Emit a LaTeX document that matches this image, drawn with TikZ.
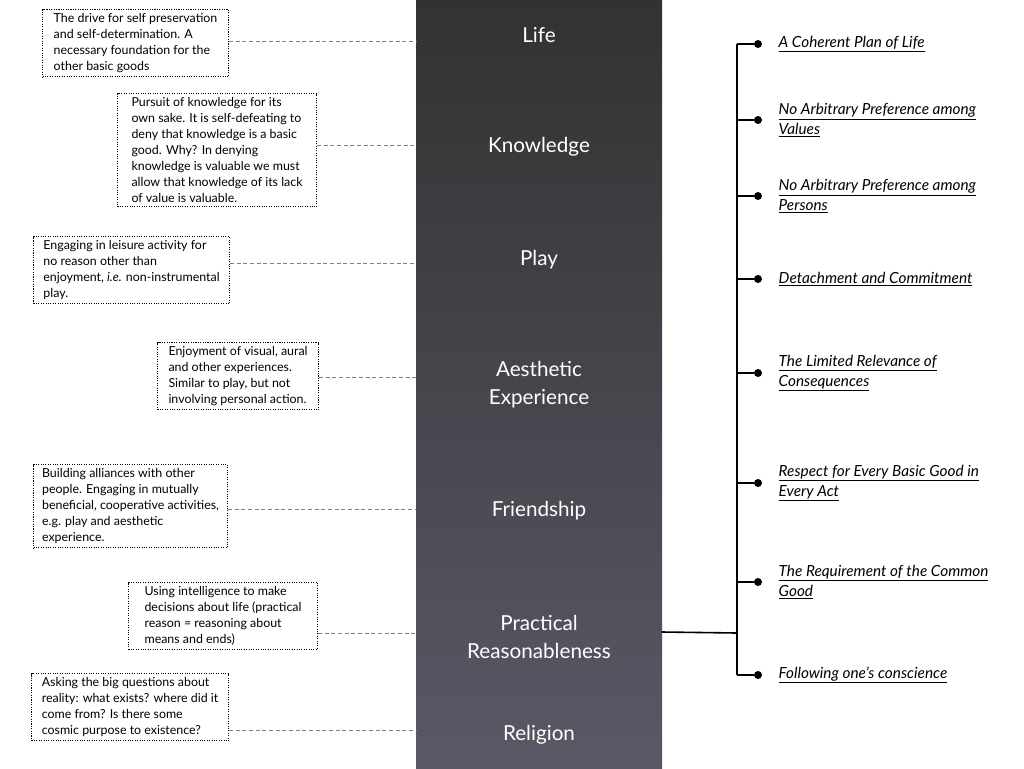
\documentclass[tikz,border=0pt]{standalone}
\usepackage{fontspec}
\setmainfont{Lato}
\newcommand\myul[1]{$\underline{\hbox{#1}}$}
\begin{document}
\begin{tikzpicture}[x=0.75pt,y=-0.75pt,
  note/.style={draw,densely dotted,thick,inner sep=3pt,font=\fontsize{9.3}{12}\selectfont,align=left,anchor=north west,minimum width=#1*0.75pt},
  good/.style={text=white,font=\fontsize{15.5}{21}\selectfont,align=center},
  lead/.style={densely dashed,gray,thin},
  pr/.style={font=\fontsize{11.5}{15}\selectfont\itshape,align=left,anchor=west},
  br/.style={line width=1.2pt},
  dot/.style={circle,fill,inner sep=0pt,minimum size=6pt}]
\useasboundingbox (0,0) rectangle (1024,768);
\shade[top color={rgb,255:red,50;green,50;blue,50},bottom color={rgb,255:red,90;green,88;blue,102}] (416,0) rectangle (662,768);
\node[good] (life) at (539,35) {Life};
\node[good] (know) at (539,147) {Knowledge};
\node[good] (play) at (539,260) {Play};
\node[good] (aes) at (539,385) {Aesthetic\\Experience};
\node[good] (fri) at (539,511) {Friendship};
\node[good] (prac) at (539,637) {Practical\\Reasonableness};
\node[good] (rel) at (539,735) {Religion};
\node[note=186] (n1) at (42,9) {The drive for self preservation\\and self-determination. A\\necessary foundation for the\\other basic goods};
\node[note=199] (n2) at (117,93) {Pursuit of knowledge for its\\own sake. It is self-defeating to\\deny that knowledge is a basic\\good. Why? In denying\\knowledge is valuable we must\\allow that knowledge of its lack\\of value is valuable.};
\node[note=196] (n3) at (33,236) {Engaging in leisure activity for\\no reason other than\\enjoyment, \textit{i.e.} non-instrumental\\play.};
\node[note=161] (n4) at (157,342) {Enjoyment of visual, aural\\and other experiences.\\Similar to play, but not\\involving personal action.};
\node[note=194] (n5) at (33,464) {Building alliances with other\\people. Engaging in mutually\\beneficial, cooperative activities,\\e.g. play and aesthetic\\experience.};
\node[note=189] (n6) at (128,582) {Using intelligence to make\\decisions about life (practical\\reason = reasoning about\\means and ends)};
\node[note=197] (n7) at (31,673) {Asking the big questions about\\reality: what exists? where did it\\come from? Is there some\\cosmic purpose to existence?};
\foreach \n/\y in {n1/41,n2/145,n3/263,n4/377,n5/509,n6/633,n7/730}
  \draw[lead] (\n.east |- 0,\y) -- (416,\y);
\coordinate (top) at (737,44);
\coordinate (bot) at (737,675);
\draw[br] (top) -- (bot);
\coordinate (j) at (737,633);
\coordinate (c) at (662,632);
\draw[br] (c) -- (j);
\foreach \i/\y/\t in {a/44/{\myul{A Coherent Plan of Life}},
  b/120/{\myul{No Arbitrary Preference among}\\\myul{Values}},
  c/196/{\myul{No Arbitrary Preference among}\\\myul{Persons}},
  d/279/{\myul{Detachment and Commitment}},
  e/373/{\myul{The Limited Relevance of}\\\myul{Consequences}},
  f/483/{\myul{Respect for Every Basic Good in}\\\myul{Every Act}},
  g/582/{\myul{The Requirement of the Common}\\\myul{Good}},
  h/675/{\myul{Following one’s conscience}}}{
  \node[dot] (d\i) at (758,\y) {};
  \draw[br] (737,\y) -- (d\i);
  \node[pr] (p\i) at (774,\y) {\t};
}
\end{tikzpicture}
\end{document}
